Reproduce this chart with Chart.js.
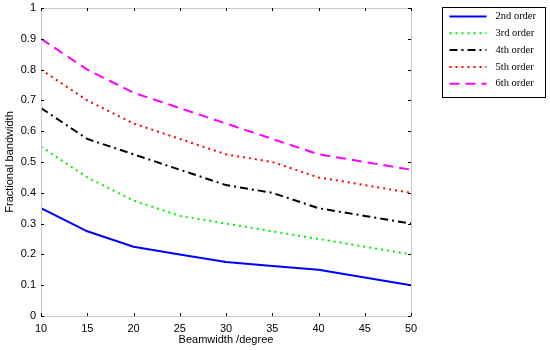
<!DOCTYPE html>
<html>
<head>
<meta charset="utf-8">
<script src="https://cdn.jsdelivr.net/npm/chart.js@4"></script>
<style>
  body { margin: 0; background: #fff; }
  #wrap { width: 550px; height: 350px; }
</style>
</head>
<body>
<div id="wrap"><canvas id="bwChart" width="550" height="350"></canvas></div>
<script>
const beamwidth = [10, 15, 20, 25, 30, 35, 40, 45, 50];
const order2 = [0.35, 0.275, 0.225, 0.2, 0.175, 0.1625, 0.15, 0.125, 0.1];
const order3 = [0.55, 0.45, 0.375, 0.325, 0.3, 0.275, 0.25, 0.225, 0.2];
const order4 = [0.675, 0.575, 0.525, 0.475, 0.425, 0.4, 0.35, 0.325, 0.3];
const order5 = [0.8, 0.7, 0.625, 0.575, 0.525, 0.5, 0.45, 0.425, 0.4];
const order6 = [0.9, 0.8, 0.725, 0.675, 0.625, 0.575, 0.525, 0.5, 0.475];
const seriesNames = ['2nd order', '3rd order', '4th order', '5th order', '6th order'];

function toPoints(vals) {
  return vals.map((v, i) => ({x: beamwidth[i], y: v}));
}

const ctx = document.getElementById('bwChart').getContext('2d');

const styles = [
  {color: '#0000ff', dash: []},
  {color: '#00ee00', dash: [2, 4]},
  {color: '#000000', dash: [8, 4, 2, 4]},
  {color: '#ff0000', dash: [2, 4]},
  {color: '#ff00ff', dash: [10, 6]},
];

const datasets = [order2, order3, order4, order5, order6].map((vals, i) => ({
  label: seriesNames[i],
  data: toPoints(vals),
  borderColor: styles[i].color,
  backgroundColor: styles[i].color,
  borderDash: styles[i].dash,
  borderWidth: 2,
  pointRadius: 0,
  tension: 0,
}));

// box round the plot and small inward ticks like matlab
const boxPlugin = {
  id: 'boxPlugin',
  afterDatasetsDraw(chart) {
    const {ctx, chartArea: a, scales} = chart;
    ctx.save();
    ctx.strokeStyle = '#c8c8c8';
    ctx.lineWidth = 1;
    ctx.strokeRect(a.left + 0.5, a.top + 0.5, a.right - a.left, a.bottom - a.top);
    ctx.strokeStyle = '#000';
    ctx.beginPath();
    scales.x.ticks.forEach(t => {
      const px = Math.round(scales.x.getPixelForValue(t.value)) + 0.5;
      ctx.moveTo(px, a.bottom); ctx.lineTo(px, a.bottom - 3);
      ctx.moveTo(px, a.top); ctx.lineTo(px, a.top + 3);
    });
    scales.y.ticks.forEach(t => {
      const py = Math.round(scales.y.getPixelForValue(t.value)) + 0.5;
      ctx.moveTo(a.left, py); ctx.lineTo(a.left + 3, py);
      ctx.moveTo(a.right, py); ctx.lineTo(a.right - 3, py);
    });
    ctx.stroke();
    ctx.restore();
  },
  afterDraw(chart) {
    // legend box on the right
    const {ctx} = chart;
    const bx = 442.5, by = 7.5, bw = 103, bh = 90;
    ctx.save();
    ctx.fillStyle = '#fff';
    ctx.fillRect(bx, by, bw, bh);
    ctx.strokeStyle = '#000';
    ctx.lineWidth = 1;
    ctx.strokeRect(bx, by, bw, bh);
    ctx.font = '10.5px "Liberation Serif", serif';
    ctx.textBaseline = 'middle';
    chart.data.datasets.forEach((ds, i) => {
      const y = by + 9 + i * 16.8;
      ctx.strokeStyle = ds.borderColor;
      ctx.lineWidth = 2;
      ctx.setLineDash(ds.borderDash);
      ctx.beginPath();
      ctx.moveTo(bx + 7, y);
      ctx.lineTo(bx + 44, y);
      ctx.stroke();
      ctx.setLineDash([]);
      ctx.fillStyle = '#000';
      ctx.fillText(ds.label, bx + 53, y);
    });
    ctx.restore();
  }
};

const chart = new Chart(ctx, {
  type: 'line',
  data: {datasets: datasets},
  options: {
    responsive: false,
    animation: false,
    layout: {padding: {top: 8, right: 139, bottom: 0, left: 0}},
    scales: {
      x: {
        type: 'linear',
        min: 10,
        max: 50,
        grid: {display: false, drawTicks: false},
        border: {display: false},
        ticks: {stepSize: 5, color: '#000', font: {family: '"Liberation Sans", Arial', size: 11}, padding: 6, maxRotation: 0},
        title: {display: true, text: 'Beamwidth /degree', color: '#000', font: {family: '"Liberation Sans", Arial', size: 11}, padding: {top: 0, bottom: 3}},
        afterFit(scale) { scale.height = 34; scale.paddingLeft = 0; scale.paddingRight = 0; }
      },
      y: {
        min: 0,
        max: 1,
        grid: {display: false, drawTicks: false},
        border: {display: false},
        ticks: {stepSize: 0.1, color: '#000', font: {family: '"Liberation Sans", Arial', size: 11}, padding: 5,
          callback: v => Math.round(v * 10) / 10 + ''},
        title: {display: true, text: 'Fractional bandwidth', color: '#000', font: {family: '"Liberation Sans", Arial', size: 11}, padding: {top: 3, bottom: 0}},
        afterFit(scale) { scale.width = 41; scale.paddingTop = 0; scale.paddingBottom = 0; }
      }
    },
    plugins: {
      legend: {display: false},
      tooltip: {enabled: false}
    }
  },
  plugins: [boxPlugin]
});
</script>
</body>
</html>
